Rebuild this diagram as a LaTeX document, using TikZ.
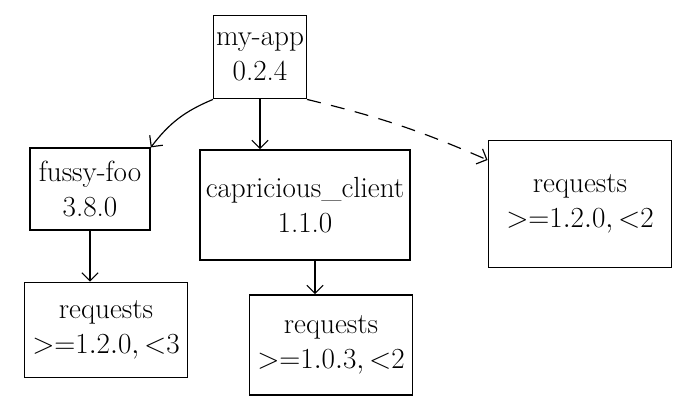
\documentclass[tikz,border=0pt]{standalone}
\usepackage{tikz}
\usetikzlibrary{arrows.meta}
\begin{document}
\begin{tikzpicture}[x=0.03cm,y=-0.03cm,
    pkg/.style={draw,line width=1.3pt,align=center,font=\Huge,inner sep=2pt},
    dep/.style={line width=1pt,-{Straight Barb[length=7pt]}}]
        \useasboundingbox (0,0) rectangle (700,415);

        \node[pkg,minimum width=2.5cm,minimum height=2.5cm] (myapp) at (260,57) {my-app\\0.2.4};
        \node[pkg,minimum width=3.6cm,minimum height=2.45cm] (fussy) at (90,189) {fussy-foo\\3.8.0};
        \node[pkg,minimum width=6.3cm,minimum height=3.3cm] (capri) at (305,205) {capricious\_client\\1.1.0};
        \node[pkg,minimum width=5.5cm,minimum height=3.8cm] (reqR) at (580,204) {requests\\${>}{=}1.2.0,{<}2$};
        \node[pkg,minimum width=4.9cm,minimum height=2.85cm] (reqL) at (106,330) {requests\\${>}{=}1.2.0,{<}3$};
        \node[pkg,minimum width=4.9cm,minimum height=3cm] (reqM) at (331,345) {requests\\${>}{=}1.0.3,{<}2$};

        \draw[dep] (myapp.south west) to[bend right=15] (fussy.north east);
        \draw[dep] (myapp.south) -- (myapp.south |- capri.north);
        \draw[dep,dash pattern=on 12pt off 9pt] (myapp.south east) to[bend left=5] (reqR.north west |- 0,160);
        \draw[dep] (fussy.south) -- (fussy.south |- reqL.north);
        \draw[dep] (capri.south) ++(10,0) coordinate (cs) -- (cs |- reqM.north);
\end{tikzpicture}
\end{document}
